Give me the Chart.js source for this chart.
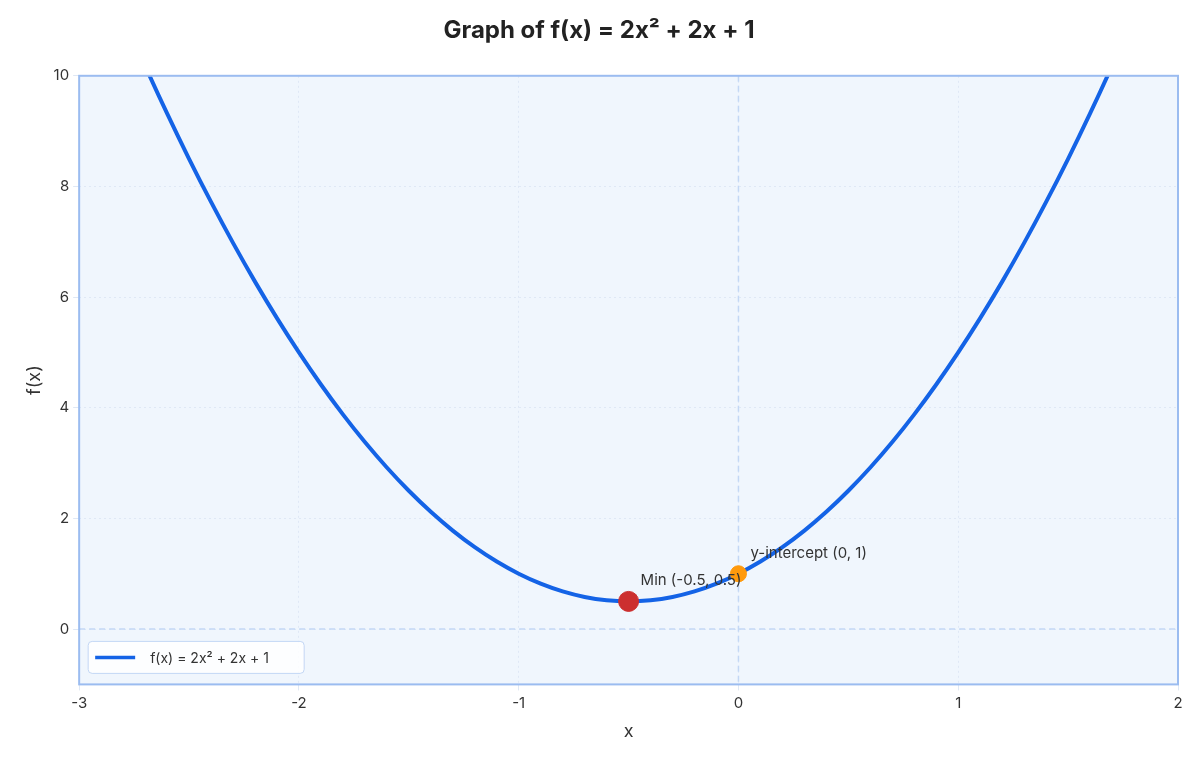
<!DOCTYPE html>
<html><head><meta charset="utf-8">
<script src="https://cdn.jsdelivr.net/npm/chart.js@4/dist/chart.umd.min.js"></script>
<style>html,body{margin:0;padding:0;background:#fff}#w{width:1200px;height:760px}</style>
</head><body><div id="w"><canvas id="c"></canvas></div>
<script>
const xValues=[-3,-2.9,-2.8,-2.7,-2.6,-2.5,-2.4,-2.3,-2.2,-2.1,-2,-1.9,-1.8,-1.7,-1.6,-1.5,-1.4,-1.3,-1.2,-1.1,-1,-0.9,-0.8,-0.7,-0.6,-0.5,-0.4,-0.3,-0.2,-0.1,0,0.1,0.2,0.3,0.4,0.5,0.6,0.7,0.8,0.9,1,1.1,1.2,1.3,1.4,1.5,1.6,1.7,1.8,1.9,2];
const yValues=[13,12.02,11.08,10.18,9.32,8.5,7.72,6.98,6.28,5.62,5,4.42,3.88,3.38,2.92,2.5,2.12,1.78,1.48,1.22,1,0.82,0.68,0.58,0.52,0.5,0.52,0.58,0.68,0.82,1,1.22,1.48,1.78,2.12,2.5,2.92,3.38,3.88,4.42,5,5.62,6.28,6.98,7.72,8.5,9.32,10.18,11.08,12.02,13];
const minPoint=[{x:-0.5,y:0.5}];
const interceptPoint=[{x:0,y:1}];
const xTicks=[-3,-2,-1,0,1,2];
const yTicks=[0,2,4,6,8,10];
const FONT='Inter, "DejaVu Sans", sans-serif';
const deco={id:'deco',
 beforeDraw(ch){const {ctx,chartArea:a}=ch;ctx.save();ctx.fillStyle='#f0f6fd';ctx.fillRect(a.left,a.top,a.right-a.left,a.bottom-a.top);ctx.restore();},
 beforeDatasetsDraw(ch){const {ctx,chartArea:a,scales:{x,y}}=ch;ctx.save();ctx.strokeStyle='#c3d7f5';ctx.lineWidth=1.5;ctx.setLineDash([6,4]);
  const x0=x.getPixelForValue(0),y0=y.getPixelForValue(0);
  ctx.beginPath();ctx.moveTo(x0,a.top);ctx.lineTo(x0,a.bottom);ctx.moveTo(a.left,y0);ctx.lineTo(a.right,y0);ctx.stroke();ctx.restore();},
 afterDatasetsDraw(ch){const {ctx,chartArea:a,scales:{x,y}}=ch;ctx.save();
  ctx.font='15px '+FONT;ctx.fillStyle='#333';ctx.textBaseline='alphabetic';
  ctx.fillText('Min (-0.5, 0.5)',x.getPixelForValue(-0.5)+12,y.getPixelForValue(0.5)-16);
  ctx.fillText('y-intercept (0, 1)',x.getPixelForValue(0)+12,y.getPixelForValue(1)-16);
  ctx.strokeStyle='#9bbcf0';ctx.lineWidth=2;ctx.setLineDash([]);
  ctx.strokeRect(a.left,a.top,a.right-a.left,a.bottom-a.top);
  const lx=a.left+9,ly=a.bottom-43;ctx.fillStyle='rgba(255,255,255,0.85)';ctx.strokeStyle='#c3d7f5';ctx.lineWidth=1;
  ctx.beginPath();ctx.roundRect(lx,ly,216,32,4);ctx.fill();ctx.stroke();
  ctx.strokeStyle='#1463e6';ctx.lineWidth=3.5;ctx.beginPath();ctx.moveTo(lx+7,ly+16);ctx.lineTo(lx+47,ly+16);ctx.stroke();
  ctx.fillStyle='#333';ctx.font='14px '+FONT;ctx.textBaseline='middle';ctx.fillText('f(x) = 2x² + 2x + 1',lx+62,ly+17);
  ctx.restore();}
};
new Chart(document.getElementById('c'),{
 type:'scatter',
 data:{datasets:[
  {label:'Min',data:minPoint,backgroundColor:'#cc2f2f',borderColor:'#cc2f2f',pointRadius:10,order:0},
  {label:'y-intercept',data:interceptPoint,backgroundColor:'#ff9a0d',borderColor:'#ff9a0d',pointRadius:8,order:0},
  {label:'f(x) = 2x² + 2x + 1',data:xValues.map((v,i)=>({x:v,y:yValues[i]})),showLine:true,borderColor:'#1463e6',borderWidth:4,pointRadius:0,cubicInterpolationMode:'monotone',order:1}
 ]},
 options:{responsive:true,maintainAspectRatio:false,animation:false,
  layout:{padding:{left:20,right:22,top:0,bottom:14}},
  plugins:{legend:{display:false},tooltip:{enabled:false},
   title:{display:true,text:'Graph of f(x) = 2x² + 2x + 1',color:'#222',font:{family:FONT,size:24,weight:'bold'},padding:{top:16,bottom:31}}},
  scales:{
   x:{type:'linear',min:-3,max:2,afterBuildTicks:s=>{s.ticks=xTicks.map(v=>({value:v}))},
    grid:{color:'#dfe8f5',lineWidth:1,tickLength:6},border:{display:false,dash:[2,3]},
    ticks:{color:'#333',font:{family:FONT,size:15},padding:4},
    title:{display:true,text:'x',color:'#333',font:{family:FONT,size:18}}},
   y:{min:-1,max:10,afterBuildTicks:s=>{s.ticks=yTicks.map(v=>({value:v}))},
    grid:{color:'#dfe8f5',lineWidth:1,tickLength:6},border:{display:false,dash:[2,3]},
    ticks:{color:'#333',font:{family:FONT,size:15},padding:4},
    title:{display:true,text:'f(x)',color:'#333',font:{family:FONT,size:18}}}
  }},
 plugins:[deco]
});
</script></body></html>
